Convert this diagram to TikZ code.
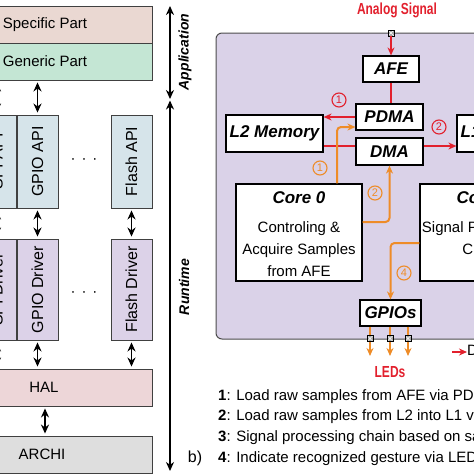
\documentclass[tikz,border=0pt]{standalone}
\usepackage{fontspec}
\usepackage{graphicx}
\setmainfont{Liberation Sans}
\newfontfamily\narrowsans[FakeStretch=0.75]{Liberation Sans}
\usetikzlibrary{
	arrows.meta,
	positioning,
	calc
}

\definecolor{specfill}{RGB}{234,216,210}
\definecolor{genfill}{RGB}{196,230,212}
\definecolor{apifill}{RGB}{214,228,234}
\definecolor{drvfill}{RGB}{220,210,232}
\definecolor{halfill}{RGB}{237,214,216}
\definecolor{archfill}{RGB}{222,222,222}
\definecolor{socfill}{RGB}{218,210,232}
\definecolor{sigred}{RGB}{226,32,45}
\definecolor{floworange}{RGB}{238,140,40}

\begin{document}
\begin{tikzpicture}[
	x=1pt, y=-1pt,
	layer/.style={
		rectangle,
		draw=black!75,
		line width=0.9pt,
		inner sep=0pt,
		align=center,
		font=\fontsize{15}{18}\selectfont
	},
	wide/.style={layer, minimum width=214pt, minimum height=37pt},
	column/.style={layer, minimum width=41pt, font=\fontsize{16}{18}\selectfont},
	apibox/.style={column, fill=apifill, minimum height=93pt},
	drvbox/.style={column, fill=drvfill, minimum height=101pt},
	dbl/.style={{Stealth[length=9pt,width=8pt]}-{Stealth[length=9pt,width=8pt]}, line width=1.5pt, shorten <=2pt, shorten >=2pt},
	side/.style={font=\fontsize{14}{16}\selectfont\bfseries\itshape, rotate=90},
	board/.style={rectangle, rounded corners=6pt, draw=black!70, line width=1pt, fill=socfill},
	block/.style={rectangle, draw=black, line width=1.2pt, fill=white, inner sep=0pt, font=\fontsize{17}{18}\selectfont\bfseries\itshape},
	core/.style={block, minimum width=126pt, minimum height=97pt},
	coretitle/.style={font=\fontsize{17}{18}\selectfont\bfseries\itshape, inner sep=0pt},
	corebody/.style={font=\fontsize{15}{22}\selectfont, align=center, inner sep=0pt},
	pinsq/.style={rectangle, draw=black, line width=0.7pt, fill=black!35, minimum size=6pt, inner sep=0pt,
		path picture={\draw[white, line width=0.6pt] (path picture bounding box.south west) -- (path picture bounding box.north east) (path picture bounding box.north west) -- (path picture bounding box.south east);}},
	redline/.style={draw=sigred, line width=1.5pt},
	redarrow/.style={redline, -{Stealth[length=8pt,width=7pt]}},
	flow/.style={draw=floworange, line width=2pt, rounded corners=4pt, -{Stealth[length=8pt,width=7pt]}},
	stepno/.style={circle, line width=1.1pt, minimum size=14pt, inner sep=0pt, font=\fontsize{11}{12}\selectfont},
	redno/.style={stepno, draw=sigred, text=sigred},
	orangeno/.style={stepno, draw=floworange, text=floworange},
	signal/.style={font=\narrowsans\fontsize{16}{18}\selectfont\bfseries, text=sigred, inner sep=0pt},
	legend/.style={anchor=west, inner sep=0pt, font=\fontsize{15}{18}\selectfont}
]
\useasboundingbox (0,0) rectangle (474,474);
\clip (0,0) rectangle (474,474);

% a) software stack
\node[wide, fill=specfill] (spec) at (45,24.5) {Specific Part};
\node[wide, fill=genfill] (gen) at (45,61.5) {Generic Part};

\node[apibox, minimum width=38pt] (apix) at (-3,161.5) {\rotatebox{90}{SPI API}};
\node[apibox] (gpioapi) at (37.5,161.5) {\rotatebox{90}{GPIO API}};
\node[apibox] (flashapi) at (131.5,161.5) {\rotatebox{90}{Flash API}};
\node[font=\fontsize{15}{18}\selectfont] (dotsapi) at (84,161) {·\hspace{6pt}·\hspace{6pt}·};

\node[drvbox, minimum width=38pt] (drvx) at (-3,289.5) {\rotatebox{90}{SPI Driver}};
\node[drvbox] (gpiodrv) at (37.5,289.5) {\rotatebox{90}{GPIO Driver}};
\node[drvbox] (flashdrv) at (131.5,289.5) {\rotatebox{90}{Flash Driver}};
\node[font=\fontsize{15}{18}\selectfont] (dotsdrv) at (84,294) {·\hspace{6pt}·\hspace{6pt}·};

\node[layer, fill=halfill, minimum width=216pt, minimum height=37pt] (hal) at (44,387.5) {HAL};
\node[layer, fill=archfill, minimum width=220pt, minimum height=37pt] (archi) at (42,454.5) {ARCHI};

\draw[dbl] (apix.north |- gen.south) -- (apix.north);
\draw[dbl] (gpioapi.north |- gen.south) -- (gpioapi.north);
\draw[dbl] (apix) -- (drvx);
\draw[dbl] (gpioapi) -- (gpiodrv);
\draw[dbl] (flashapi) -- (flashdrv);
\draw[dbl] (drvx.south) -- (drvx.south |- hal.north);
\draw[dbl] (gpiodrv.south) -- (gpiodrv.south |- hal.north);
\draw[dbl] (flashdrv.south) -- (flashdrv.south |- hal.north);
\draw[dbl] ([xshift=1pt]hal.south) -- ([xshift=1pt]hal.south |- archi.north);

% Application / Runtime
\coordinate (apptop) at (170,6);
\coordinate (appbot) at (170,99);
\coordinate (runbot) at (170,471);
\draw[dbl, shorten <=0pt, shorten >=0pt] (apptop) -- (appbot);
\draw[dbl, shorten <=0pt, shorten >=0pt] ([yshift=-1.5pt]appbot) -- (runbot);
\node[side] (applbl) at (185,52) {Application};
\node[side] (runlbl) at (184,287) {Runtime};
\node[font=\fontsize{16}{18}\selectfont] (blbl) at (195,458) {b)};

% b) board
\node[board, minimum width=320pt, minimum height=306pt] (soc) at (376,186) {};

\node[signal] (analog) at (397,10) {Analog Signal};
\node[pinsq] (ain) at (391,33) {};
\node[block, minimum width=56pt, minimum height=26pt] (afe) at (391,69) {AFE};
\node[block, minimum width=67pt, minimum height=26pt] (pdma) at (389.5,117) {PDMA};
\node[block, minimum width=67pt, minimum height=27pt] (dma) at (389.5,151.5) {DMA};
\node[block, minimum width=97pt, minimum height=37pt] (l2) at (274.5,133.5) {L2 Memory};
\node[block, minimum width=97pt, minimum height=37pt] (l1) at (505.5,133.5) {L1 Memory};

\draw[redarrow] (ain) -- (afe);
\draw[redline] (afe.south) -- (afe.south |- pdma.north);
\draw[redarrow] (pdma.west) -- (pdma.west -| l2.east);
\draw[redline] ([yshift=5.5pt]dma.west) -- ([yshift=5.5pt]dma.west -| l2.east);
\draw[redarrow] ([yshift=5.5pt]dma.east) -- ([yshift=5.5pt]dma.east -| l1.west);
\node[redno] (r1) at (339,100) {1};
\node[redno] (r2) at (439,127) {2};

% Cores
\node[core] (core0) at (299,232.5) {};
\node[coretitle] (core0t) at (299,198) {Core 0};
\node[corebody] (core0b) at (299,249) {Controling \&\\Acquire Samples\\from AFE};
\node[core] (core1) at (483,232.5) {};
\node[coretitle] (core1t) at (483,198) {Core 1};
\node[corebody] (core1b) at (482,238) {Signal Processing\\Chain};

\node[block, minimum width=61pt, minimum height=26pt] (gpios) at (390.5,313) {GPIOs};

\draw[flow] ([xshift=38pt]core0.north) |- ([yshift=-10pt]pdma.west);
\draw[flow] ([yshift=10.5pt]core0.east) -| (dma.south);
\draw[flow] ([yshift=-10.5pt]core1.west) -| (gpios.north);
\node[orangeno] (o1) at (320,168) {1};
\node[orangeno] (o2) at (375,193) {2};
\node[orangeno] (o4) at (404,273) {4};

% LEDs
\coordinate (led1) at (370,356);
\coordinate (led2) at (390,356);
\coordinate (led3) at (408,356);
\draw[flow] (gpios.south -| led1) -- (led1);
\draw[flow] (gpios.south -| led2) -- (led2);
\draw[flow] (gpios.south -| led3) -- (led3);
\node[pinsq] (p1) at (370,338.5) {};
\node[pinsq] (p2) at (390,338.5) {};
\node[pinsq] (p3) at (408,338.5) {};
\node[signal] (leds) at (390,372) {LEDs};

\coordinate (dbgstart) at (452,352);
\node[legend] (dbg) at (467,352) {Debug};
\draw[redarrow, line width=1.3pt] (dbgstart) -- (dbg.west);

% Legend
\node[legend] (lg1) at (218,397) {\textbf{1}: Load raw samples from AFE via PDMA};
\node[legend] (lg2) at (218,417) {\textbf{2}: Load raw samples from L2 into L1 via DMA};
\node[legend] (lg3) at (218,438) {\textbf{3}: Signal processing chain based on samples};
\node[legend] (lg4) at (218,459) {\textbf{4}: Indicate recognized gesture via LEDs};
\end{tikzpicture}
\end{document}
